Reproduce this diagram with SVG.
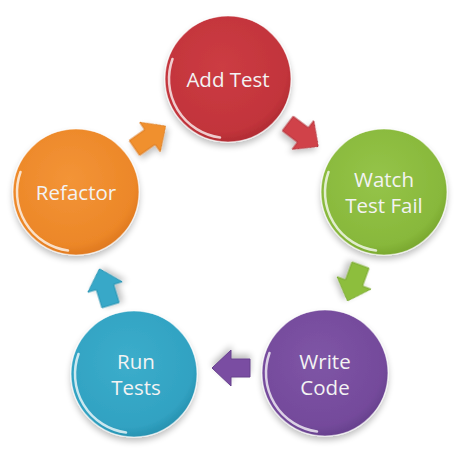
<svg xmlns="http://www.w3.org/2000/svg" width="461" height="461" viewBox="0 0 461 461">
  <defs>
    <radialGradient id="gRed" cx="0.45" cy="0.4" r="0.65">
      <stop offset="0" stop-color="#cc3c43"/>
      <stop offset="0.8" stop-color="#c2343b"/>
      <stop offset="1" stop-color="#a8282f"/>
    </radialGradient>
    <radialGradient id="gGreen" cx="0.45" cy="0.4" r="0.65">
      <stop offset="0" stop-color="#95c449"/>
      <stop offset="0.8" stop-color="#88b83b"/>
      <stop offset="1" stop-color="#73a02a"/>
    </radialGradient>
    <radialGradient id="gPurple" cx="0.45" cy="0.4" r="0.65">
      <stop offset="0" stop-color="#7f55a6"/>
      <stop offset="0.8" stop-color="#744a9b"/>
      <stop offset="1" stop-color="#613c87"/>
    </radialGradient>
    <radialGradient id="gBlue" cx="0.45" cy="0.4" r="0.65">
      <stop offset="0" stop-color="#3cadcb"/>
      <stop offset="0.8" stop-color="#31a2c2"/>
      <stop offset="1" stop-color="#238aa8"/>
    </radialGradient>
    <radialGradient id="gOrange" cx="0.45" cy="0.4" r="0.65">
      <stop offset="0" stop-color="#f39437"/>
      <stop offset="0.8" stop-color="#ec8728"/>
      <stop offset="1" stop-color="#d9721b"/>
    </radialGradient>
    <filter id="shadow" x="-30%" y="-30%" width="160%" height="170%">
      <feGaussianBlur in="SourceAlpha" stdDeviation="3"/>
      <feOffset dx="0" dy="4" result="b"/>
      <feComponentTransfer><feFuncA type="linear" slope="0.25"/></feComponentTransfer>
      <feMerge><feMergeNode/><feMergeNode in="SourceGraphic"/></feMerge>
    </filter>
    <path id="gloss" d="M-8,58.5 A59,59 0 0 1 -55.5,-20"/>
    <path id="arrow" d="M-19,-9 L0,-9 L0,-18 L19,0 L0,18 L0,9 L-19,9 Z"/>
  </defs>
  <style>
    .node circle { stroke: rgba(255,255,255,0.55); stroke-width: 1.2; }
    .gloss { fill: none; stroke: #ffffff; stroke-opacity: 0.75; stroke-width: 2.5; stroke-linecap: round; }
    .label { font-family: "Open Sans", "Noto Sans", "Liberation Sans", sans-serif; font-size: 20.5px; fill: #f3f3f3; text-anchor: middle; }
    .arr { stroke-width: 1; stroke-linejoin: round; }
  </style>

  <g id="connectors">
    <g transform="translate(303,135) rotate(37)"><use href="#arrow" class="arr" fill="#d0434a" stroke="#b3323a" filter="url(#shadow)"/></g>
    <g transform="translate(354,283) rotate(110)"><use href="#arrow" class="arr" fill="#8dbe3e" stroke="#78a82c" filter="url(#shadow)"/></g>
    <g transform="translate(231,368) rotate(180)"><use href="#arrow" class="arr" fill="#7a4ea2" stroke="#66408c" filter="url(#shadow)"/></g>
    <g transform="translate(105,287) rotate(-107)"><use href="#arrow" class="arr" fill="#37a8c8" stroke="#2893b2" filter="url(#shadow)"/></g>
    <g transform="translate(150,137) rotate(-35)"><use href="#arrow" class="arr" fill="#f0902e" stroke="#dc7b1e" filter="url(#shadow)"/></g>
  </g>

  <g id="add-test" class="node" transform="translate(228,79)">
    <circle r="63" fill="url(#gRed)" filter="url(#shadow)"/>
    <use href="#gloss" class="gloss"/>
    <text class="label" x="0" y="8">Add Test</text>
  </g>

  <g id="watch-test-fail" class="node" transform="translate(384,192)">
    <circle r="63" fill="url(#gGreen)" filter="url(#shadow)"/>
    <use href="#gloss" class="gloss"/>
    <text class="label" x="0" y="-5">Watch</text>
    <text class="label" x="0" y="21">Test Fail</text>
  </g>

  <g id="write-code" class="node" transform="translate(325,373)">
    <circle r="63" fill="url(#gPurple)" filter="url(#shadow)"/>
    <use href="#gloss" class="gloss"/>
    <text class="label" x="0" y="-4">Write</text>
    <text class="label" x="0" y="22">Code</text>
  </g>

  <g id="run-tests" class="node" transform="translate(134,374)">
    <circle r="63" fill="url(#gBlue)" filter="url(#shadow)"/>
    <use href="#gloss" class="gloss"/>
    <text class="label" x="2" y="-5">Run</text>
    <text class="label" x="2" y="21">Tests</text>
  </g>

  <g id="refactor" class="node" transform="translate(76,192)">
    <circle r="63" fill="url(#gOrange)" filter="url(#shadow)"/>
    <use href="#gloss" class="gloss"/>
    <text class="label" x="0" y="8">Refactor</text>
  </g>
</svg>
